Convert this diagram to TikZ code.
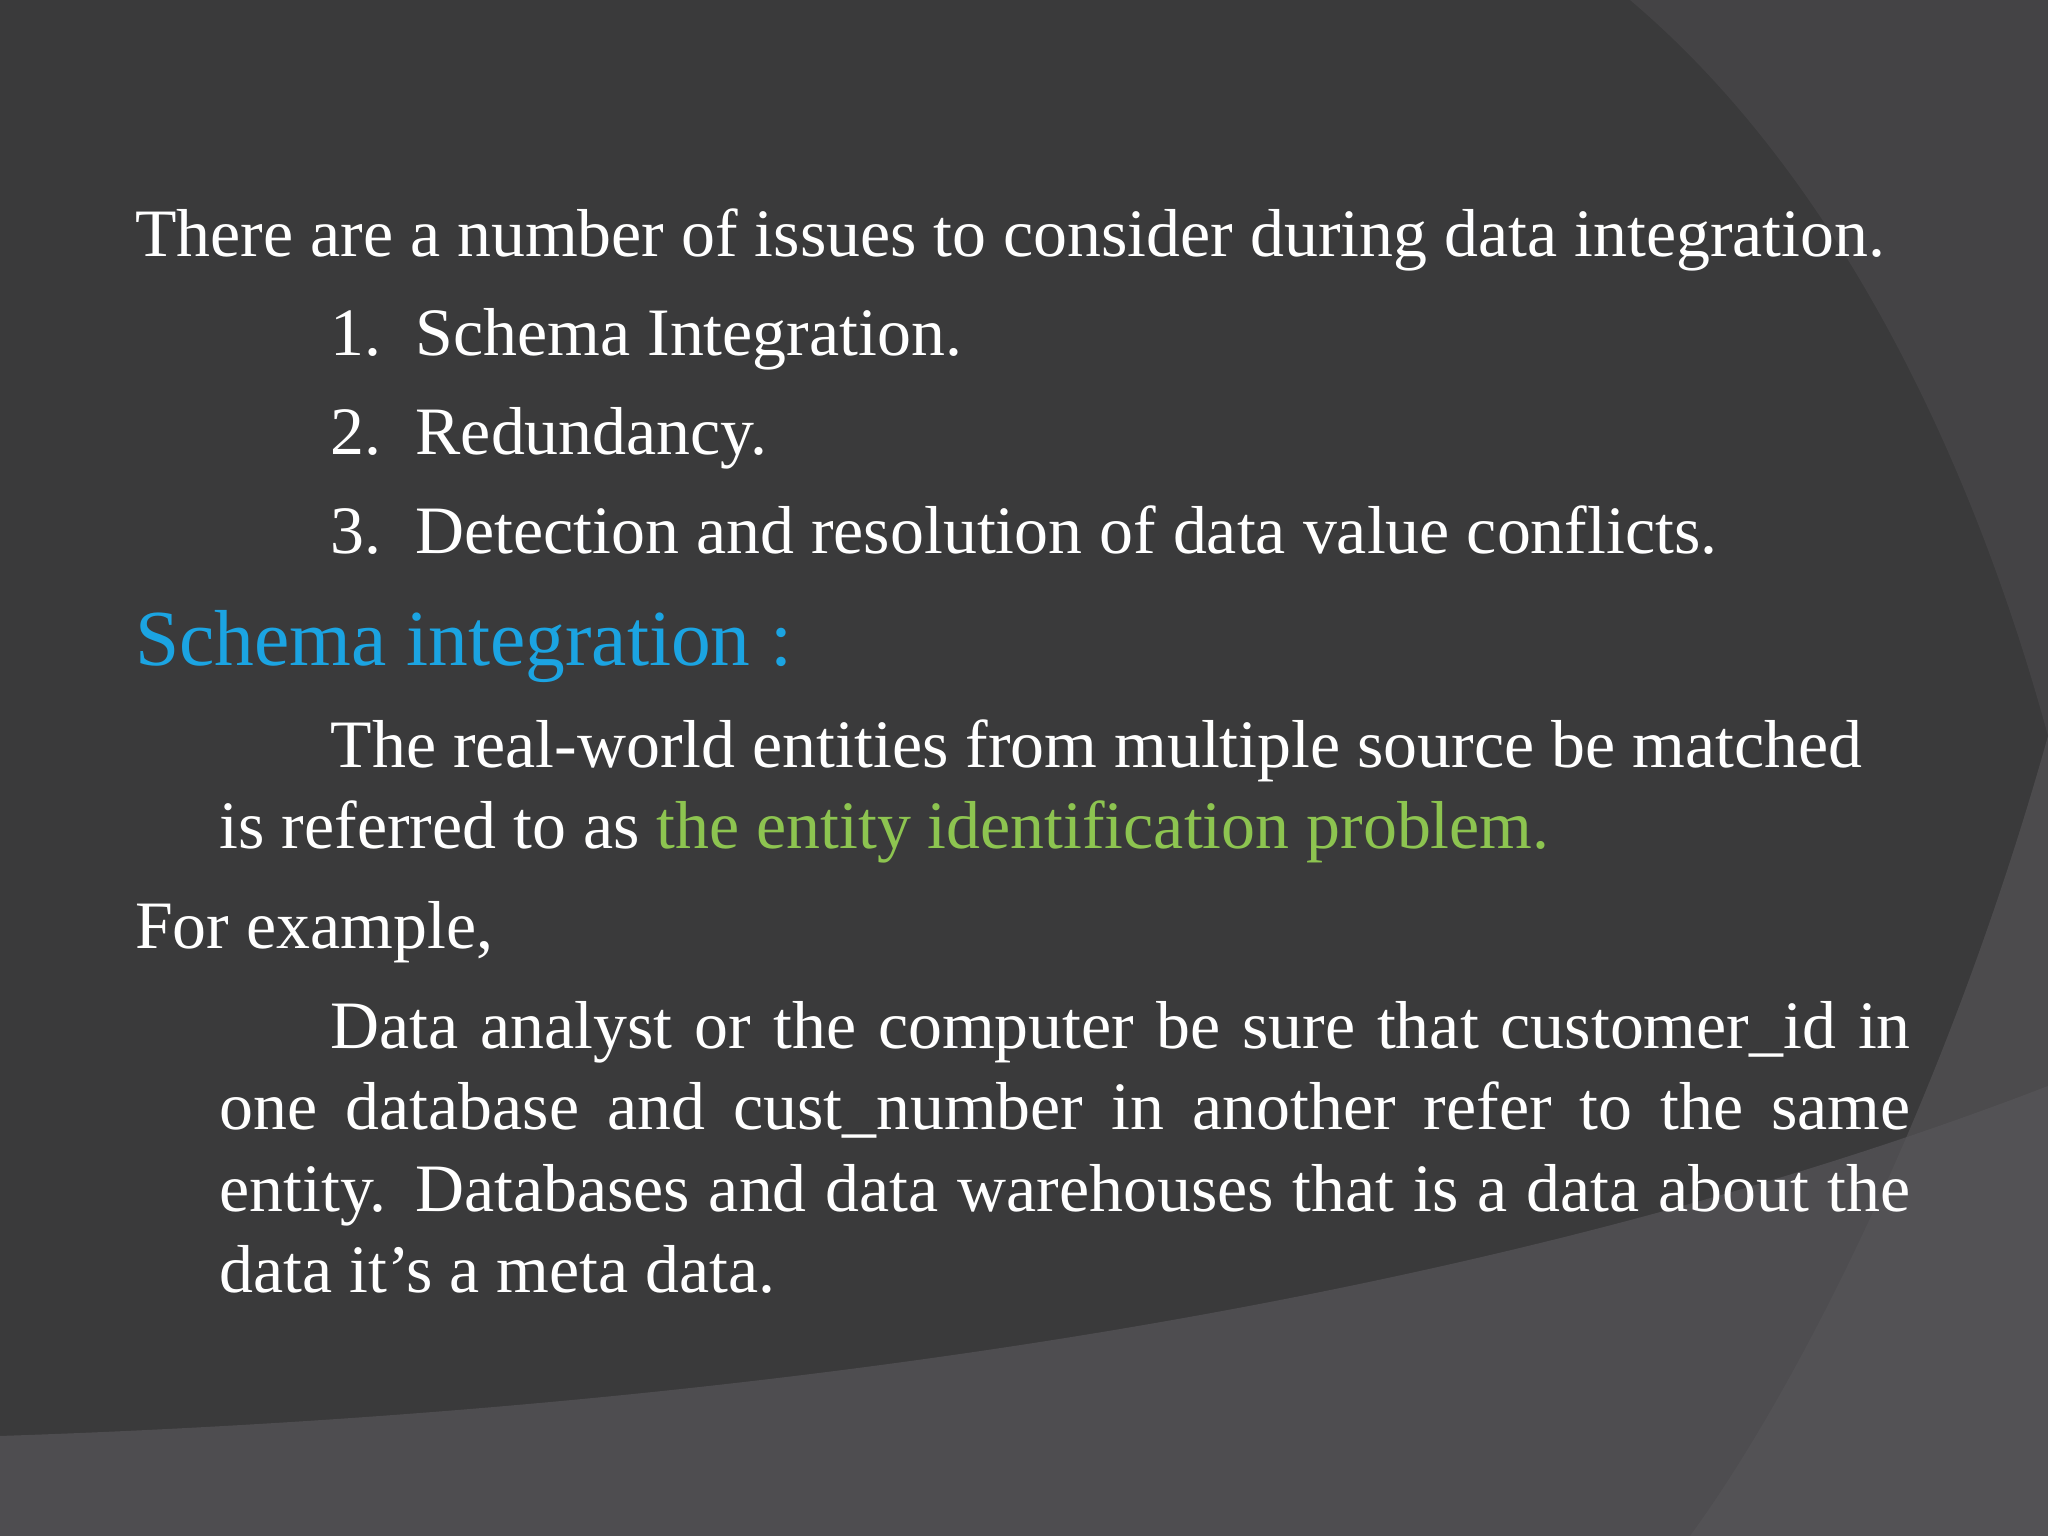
\documentclass[tikz,border=0pt]{standalone}
\usepackage{fontspec}
\setmainfont{Liberation Serif}
\definecolor{bg}{HTML}{3A3A3B}
\definecolor{bgl}{HTML}{4E4D50}
\definecolor{bgm}{HTML}{444345}
\definecolor{tblue}{HTML}{1BA4E2}
\definecolor{tgreen}{HTML}{8DC450}
\begin{document}
\begin{tikzpicture}[x=1cm,y=1cm,
  txt/.style={anchor=base west,inner sep=0pt,text=white,font=\fontsize{19.3}{23}\selectfont}]
\useasboundingbox (0,0) rectangle (20.48,15.36);
\fill[bg] (0,0) rectangle (20.48,15.36);
% top right lighter region
\fill[bgm] (16.3,15.36) .. controls (18.5,13.5) and (19.8,10.5) .. (20.48,8.0) -- (20.48,15.36) -- cycle;
% right lower arc
\fill[bgm] (20.48,8.0) .. controls (19.5,4.5) and (18.0,1.5) .. (16.9,0) -- (20.48,0) -- cycle;
% bottom band
\fill[bgl] (0,1.0) .. controls (6,1.2) and (14,2.0) .. (20.48,4.5) -- (20.48,0) -- (0,0) -- cycle;
\fill[bgl!90!white,opacity=0.3] (16.9,0) .. controls (18.0,1.5) and (19.5,4.5) .. (20.48,8.0) -- (20.48,0) -- cycle;
\node[txt] (l0) at (1.345,12.79) {There are a number of issues to consider during data integration.};
\node[txt] (n1) at (3.30,11.80) {1.};
\node[txt] (t1) at (4.15,11.80) {Schema Integration.};
\node[txt] (n2) at (3.30,10.81) {2.};
\node[txt] (t2) at (4.15,10.81) {Redundancy.};
\node[txt] (n3) at (3.30,9.82) {3.};
\node[txt] (t3) at (4.15,9.82) {Detection and resolution of data value conflicts.};
\node[txt,text=tblue,font=\fontsize{22.6}{27}\selectfont] (h) at (1.345,8.70) {Schema integration :};
\node[txt] (p1) at (3.30,7.68) {The real-world entities from multiple source be matched};
\node[txt] (p2) at (2.19,6.87) {is referred to as \textcolor{tgreen}{the entity identification problem.}};
\node[txt] (fe) at (1.345,5.87) {For example,};
\node[txt] (d1) at (3.30,4.87) {\makebox[15.80cm][s]{Data analyst or the computer be sure that customer\_id in}};
\node[txt] (d2) at (2.19,4.06) {\makebox[16.91cm][s]{one database and cust\_number in another refer to the same}};
\node[txt] (d3) at (2.19,3.24) {\makebox[16.91cm][s]{entity. Databases and data warehouses that is a data about the}};
\node[txt] (d4) at (2.19,2.43) {data it’s a meta data.};
\end{tikzpicture}
\end{document}
